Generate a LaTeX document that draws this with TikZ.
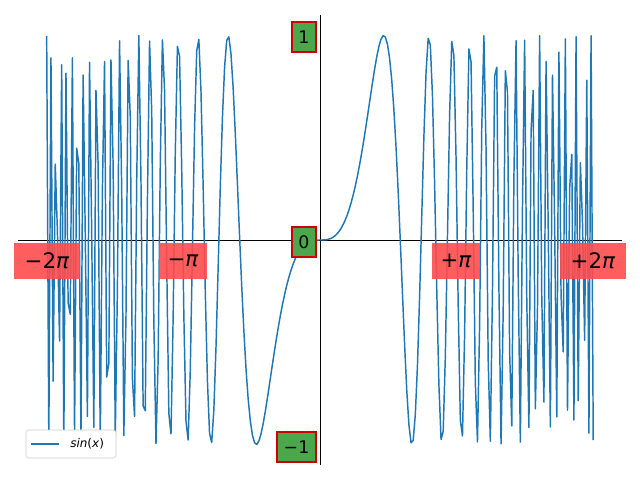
\documentclass[tikz,border=0pt]{standalone}
\usepackage{fontspec}
\setmainfont{DejaVu Sans}
\begin{document}
\begin{tikzpicture}[x=0.75pt,y=-0.75pt,
  redlab/.style={fill=red!70!white,fill opacity=0.9,text opacity=1,inner sep=0pt,minimum height=36*0.75pt,font=\fontsize{16}{16}\selectfont},
  greenlab/.style={fill=green!50!black!70!white,draw=red!80!black,line width=0.8pt,inner sep=0pt,minimum height=30*0.75pt,font=\fontsize{13}{13}\selectfont}]
\definecolor{mplblue}{HTML}{1F77B4}
\useasboundingbox (0,0) rectangle (640,480);
\draw[line width=0.6pt] (18,240) -- (622,240);
\draw[line width=0.6pt] (320,15) -- (320,465);
\draw[mplblue,line width=1.1pt,line join=round] plot[domain=-6.2832:6.2832,samples=256,variable=\t]
  ({320+43.5*\t},{240-204.5*sin(\t*\t*\t/2 r)});
\node[redlab,minimum width=66*0.75pt] (l1) at (47,261) {−2\textit{π}};
\node[redlab,minimum width=48*0.75pt] (l2) at (183,261) {−\textit{π}};
\node[redlab,minimum width=48*0.75pt] (l3) at (456,261) {+\textit{π}};
\node[redlab,minimum width=66*0.75pt] (l4) at (593,261) {+2\textit{π}};
\node[greenlab,minimum width=24*0.75pt] (g1) at (304,37) {1};
\node[greenlab,minimum width=24*0.75pt] (g0) at (304,242) {0};
\node[greenlab,minimum width=39*0.75pt] (gm) at (296.5,447) {−1};
\node[draw=black!20,rounded corners=2pt,minimum width=90*0.75pt,minimum height=28*0.75pt,fill=white] (leg) at (71,444) {};
\draw[mplblue,line width=1.1pt] (31,444) -- (59,444);
\node[anchor=west,font=\fontsize{9}{9}\selectfont,inner sep=0pt] (lt) at (70,444) {\textit{sin}(\textit{x})};
\end{tikzpicture}
\end{document}
